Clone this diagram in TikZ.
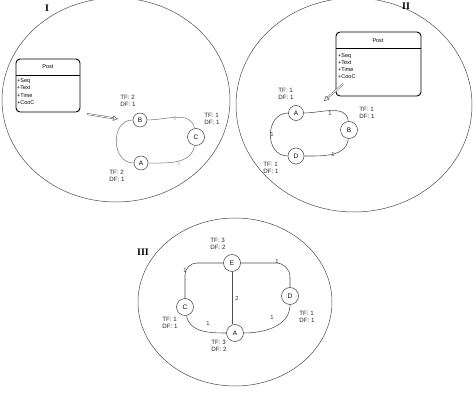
\documentclass[tikz,border=0pt]{standalone}
\usepackage{fontspec}
\setmainfont{Liberation Serif}
\newfontfamily\labfont{Liberation Sans}
\usetikzlibrary{arrows.meta}
\tikzset{
  region/.style={draw=black!70, line width=0.5pt},
  vtx/.style={circle, draw=black!75, line width=0.5pt, inner sep=0pt, minimum size=#1, font=\labfont\fontsize{6.5}{7}\selectfont},
  vtx/.default=15pt,
  edge/.style={draw=black!70, line width=0.55pt},
  faintedge/.style={draw=black!55, line width=0.5pt},
  stat/.style={font=\labfont\fontsize{6.2}{7.3}\selectfont, align=left, inner sep=0pt, text=black!85},
  elab/.style={font=\labfont\fontsize{5.8}{6}\selectfont, inner sep=0pt, text=black!80},
  faintlab/.style={font=\labfont\fontsize{5.8}{6}\selectfont, inner sep=0pt, text=black!30},
  roman/.style={font=\bfseries\fontsize{10}{12}\selectfont, inner sep=0pt},
  postbox/.style={draw=black, line width=0.9pt, rounded corners=4pt},
  posttitle/.style={font=\labfont\fontsize{5.5}{6}\selectfont, inner sep=0pt},
  postitem/.style={font=\labfont\fontsize{5.5}{6}\selectfont, inner sep=0pt, anchor=west},
  inherit/.style={draw=black!70, double=white, double distance=0.9pt, line width=0.45pt, -{Triangle[open, length=5pt, width=5pt]}}
}
\begin{document}
\begin{tikzpicture}[x=1pt, y=-1pt]
\useasboundingbox (0,0) rectangle (474,403);

% regions
\draw[region] (116,100) ellipse [x radius=114, y radius=102];
\draw[region] (354,105) ellipse [x radius=118, y radius=107];
\draw[region] (235,302) ellipse [x radius=97, y radius=84];
\node[roman] (rI) at (47,8) {I};
\node[roman] (rII) at (406,6) {II};
\node[roman] (rIII) at (143,252) {III};

% ---------- Region I ----------
\draw[postbox] (16,59) rectangle (80,112);
\draw[line width=0.7pt] (16,75) -- (80,75);
\node[posttitle] (p1t) at (48,67) {Post};
\node[postitem] (p1a) at (17,81) {+Seq};
\node[postitem] (p1b) at (17,88) {+Text};
\node[postitem] (p1c) at (17,96) {+Time};
\node[postitem] (p1d) at (17,103) {+CooC};
\coordinate (a1s) at (87,114);
\coordinate (a1e) at (118,119);
\draw[inherit] (a1s) -- (a1e);

\node[vtx=14pt] (IB) at (140,120) {B};
\node[vtx=17pt] (IC) at (196,137) {C};
\node[vtx=14pt] (IA) at (141,163) {A};
\draw[faintedge] (IB) to[out=0, in=100] (IC);
\draw[faintedge] (IA) to[out=0, in=-100] (IC);
\draw[faintedge] (IB) to[out=180, in=180, looseness=1.35] (IA);
\node[faintlab] (Il1) at (175,119) {1};
\node[faintlab] (Il2) at (179,164) {1};
\node[faintlab] (Il3) at (117,140) {1};
\node[stat] (IsB) at (128,101) {TF: 2\\DF: 1};
\node[stat] (IsC) at (212,119) {TF: 1\\DF: 1};
\node[stat] (IsA) at (117,175.5) {TF: 2\\DF: 1};

% ---------- Region II ----------
\draw[postbox] (336,32) rectangle (421,96);
\draw[line width=0.7pt] (336,48) -- (421,48);
\node[posttitle] (p2t) at (378,41) {Post};
\node[postitem] (p2a) at (338,56) {+Seq};
\node[postitem] (p2b) at (338,63) {+Text};
\node[postitem] (p2c) at (338,70) {+Time};
\node[postitem] (p2d) at (338,77) {+CooC};
\coordinate (a2s) at (343,84);
\coordinate (a2e) at (324,101);
\draw[inherit] (a2s) -- (a2e);

\node[vtx=15pt] (IIA) at (296,113) {A};
\node[vtx=17pt] (IIB) at (349,130) {B};
\node[vtx=16pt] (IID) at (296,156) {D};
\draw[edge] (IIA) to[out=0, in=95] (IIB);
\draw[edge] (IID) to[out=0, in=-95] (IIB);
\draw[edge] (IIA) to[out=180, in=180, looseness=1.4] (IID);
\node[elab] (IIl1) at (330,114) {1};
\node[elab] (IIl2) at (272,135) {1};
\node[elab] (IIl3) at (333,155) {1};
\node[stat] (IIsA) at (286,94) {TF: 1\\DF: 1};
\node[stat] (IIsB) at (367,113) {TF: 1\\DF: 1};
\node[stat] (IIsD) at (271,168) {TF: 1\\DF: 1};

% ---------- Region III ----------
\node[vtx=17pt] (E) at (232,263) {E};
\node[vtx=17pt] (D) at (290,296) {D};
\node[vtx=17pt] (C) at (185,307) {C};
\node[vtx=17pt] (A) at (235,333) {A};
\draw[edge] (E.south) -- (E.south |- A.north);
\draw[edge, rounded corners=12pt] (E.west) -| (C.north);
\draw[edge, rounded corners=14pt] (E.east) -| (D.north);
\draw[edge] (C) to[out=-80, in=180] (A);
\draw[edge] (D) to[out=-90, in=0] (A);
\node[elab] (l2) at (237,298) {2};
\node[elab] (l1a) at (185,271) {1};
\node[elab] (l1b) at (277,262) {1};
\node[elab] (l1c) at (208,324) {1};
\node[elab] (l1d) at (272,318) {1};
\node[stat] (sE) at (218,243.5) {TF: 3\\DF: 2};
\node[stat] (sC) at (170,323) {TF: 1\\DF: 1};
\node[stat] (sA) at (219,345.5) {TF: 3\\DF: 2};
\node[stat] (sD) at (307,317) {TF: 1\\DF: 1};
\end{tikzpicture}
\end{document}
